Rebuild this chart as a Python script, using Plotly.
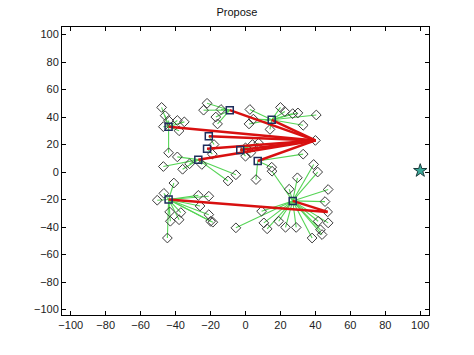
import plotly.graph_objects as go

# Cluster heads (squares)
ch_x = [-44, -9, 15, -21, -22, -27, -3, 7, -44, 27]
ch_y = [33, 45, 38, 26, 17, 9, 16, 8, -20, -21]
# sink for each cluster head (index into sink arrays)
ch_sink = [0, 0, 0, 0, 0, 0, 0, 0, 1, 1]
sink_x = [40, 47]
sink_y = [23, -29]

# Member nodes (diamonds) and the cluster head they join
node_x = [-48, -46, -44, -47, -39, -35, -38, -44,
          -39, -47, -36, -32, -25, -10, -5.5,
          -22, -24, -17, -16, -14,
          2.5, 4.5, 2, 20, 22.5, 27, 30, 40.5, 33, 14,
          -18,
          -19,
          0, 3, 7.5, 4, 0,
          15, 6, 33,
          -41, -46.7, -50.5, -27, -21, -26, -37, -38, -43, -43.4, -21, -20, -18.7, -44.7,
          15.2, 29.7, 25, 41.3, 39, 47.3, 45.5, 47.3, 41.6, 42.9, 43.8, 38.1, 29, 22.9, 19, 12.4, 10.5, 9.2, -5.5]
node_y = [47, 41, 37.5, 33, 37.5, 36.5, 30, 14,
          11, 4, 2, 6, 5.5, -6.5, -2,
          50, 45, 40, 35, 45.5,
          45.5, 38.5, 35, 47, 44, 42.5, 43, 41.5, 34, 31,
          20,
          13,
          17.6, 14, 21, 20, 11.5,
          3.5, -5.5, 13,
          -8, -15.5, -20.5, -17, -17.6, -24.7, -29.5, -34.7, -35.8, -29, -31, -35.8, -36.5, -48,
          0.6, -4.2, -12.5, 0, 5.5, -12.7, -21.5, -37, -35.8, -42, -45.5, -48, -40.3, -40.2, -35.8, -41.3, -37, -28.5, -40.6]
node_ch = [0]*8 + [5]*7 + [1]*5 + [2]*10 + [3] + [4] + [6]*5 + [7]*3 + [8]*14 + [9]*19

# Base station
bs_x = [100]
bs_y = [1]

fig = go.Figure()

# green member links
gx, gy = [], []
for x, y, c in zip(node_x, node_y, node_ch):
    gx += [x, ch_x[c], None]
    gy += [y, ch_y[c], None]
fig.add_trace(go.Scatter(x=gx, y=gy, mode="lines",
                         line=dict(color="#55d455", width=1.1), hoverinfo="skip"))

# diamonds (members and sinks)
fig.add_trace(go.Scatter(x=node_x + sink_x, y=node_y + sink_y, mode="markers",
                         marker=dict(symbol="diamond-open", size=7.5,
                                     color="#3a3a3a", line=dict(width=1))))

# red cluster-head to sink links
rx, ry = [], []
for x, y, s in zip(ch_x, ch_y, ch_sink):
    rx += [x, sink_x[s], None]
    ry += [y, sink_y[s], None]
fig.add_trace(go.Scatter(x=rx, y=ry, mode="lines",
                         line=dict(color="#d81010", width=2.5), hoverinfo="skip"))

# cluster heads
fig.add_trace(go.Scatter(x=ch_x, y=ch_y, mode="markers",
                         marker=dict(symbol="square-open", size=7,
                                     color="#1d2d5c", line=dict(width=1.5))))

# base station star
fig.add_trace(go.Scatter(x=bs_x, y=bs_y, mode="markers",
                         marker=dict(symbol="star", size=10, color="#3aa99a",
                                     line=dict(color="#1a3a3a", width=1))))

axis_common = dict(showgrid=False, zeroline=False, showline=True, linecolor="black",
                   linewidth=1, mirror="ticks", ticks="inside", ticklen=4,
                   tickcolor="black", tickfont=dict(size=11, color="#222"))

fig.update_layout(
    width=474, height=355,
    margin=dict(l=62, r=45, t=27, b=40),
    plot_bgcolor="white", paper_bgcolor="white",
    showlegend=False,
    font=dict(family="Liberation Sans, Arial, sans-serif"),
    title=dict(text="Propose", x=0.5, xanchor="center", y=0.965, yanchor="middle",
               font=dict(size=11, color="#111")),
)
fig.update_xaxes(range=[-105, 105], tickvals=list(range(-100, 101, 20)), **axis_common)
fig.update_yaxes(range=[-104, 105.5], tickvals=list(range(-100, 101, 20)), **axis_common)

fig.write_html("out.html")
